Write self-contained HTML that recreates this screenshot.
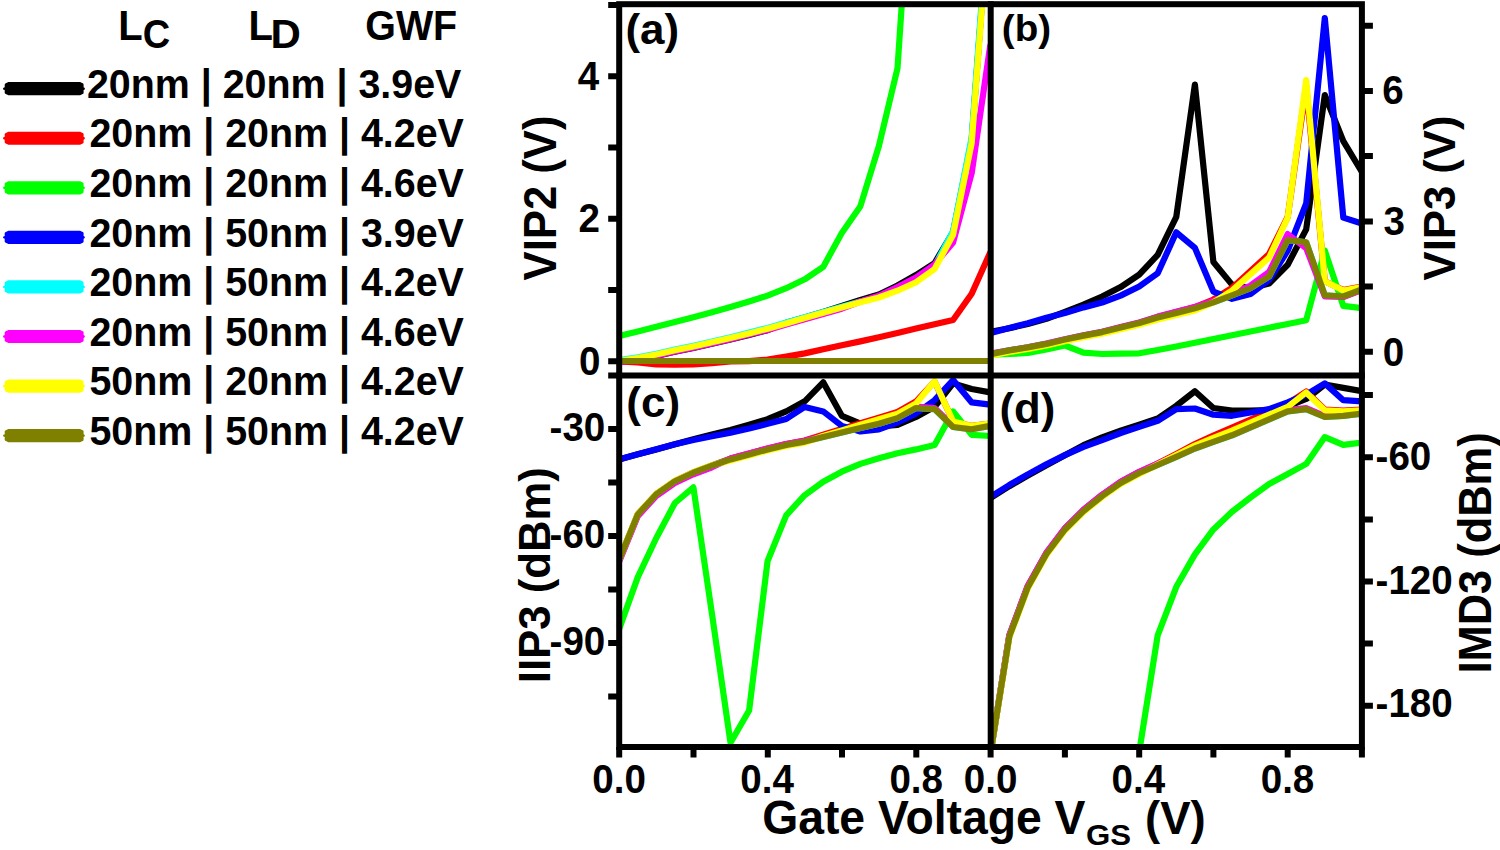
<!DOCTYPE html><html><head><meta charset="utf-8"><style>html,body{margin:0;padding:0;background:#fff;width:1500px;height:850px;overflow:hidden;font-family:"Liberation Sans",sans-serif}svg{display:block}</style></head><body>
<svg width="1500" height="850" viewBox="0 0 1500 850">
<rect width="1500" height="850" fill="#fff"/>
<defs>
<clipPath id="ca"><rect x="619.2" y="4.2" width="371.5" height="371.2"/></clipPath>
<clipPath id="cb"><rect x="990.7" y="4.2" width="371.20000000000005" height="371.2"/></clipPath>
<clipPath id="cc"><rect x="619.2" y="375.4" width="371.5" height="371.6"/></clipPath>
<clipPath id="cd"><rect x="990.7" y="375.4" width="371.20000000000005" height="371.6"/></clipPath>
</defs>
<g clip-path="url(#ca)" fill="none" stroke-width="6.2" stroke-linejoin="round" stroke-linecap="round">
<polyline stroke="#000000" points="619.2,362.5 637.8,359.5 656.3,356.0 674.9,351.8 693.4,348.0 712.0,343.8 730.5,339.5 749.1,334.9 767.6,330.2 786.2,322.8 804.7,317.5 823.2,312.0 841.8,306.0 860.4,300.0 878.9,294.5 897.5,285.5 916.0,275.0 934.6,263.0 953.1,232.0 971.7,140.0 990.2,-108.0"/>
<polyline stroke="#ff0000" points="619.2,361.5 637.8,362.3 656.3,364.5 674.9,364.6 693.4,364.5 712.0,363.2 730.5,361.3 749.1,361.2 767.6,359.5 786.2,356.6 804.7,353.4 823.2,349.3 841.8,345.3 860.4,341.4 878.9,337.3 897.5,333.0 916.0,328.6 934.6,324.3 953.1,320.0 971.7,293.7 990.2,252.5"/>
<polyline stroke="#00ff00" points="619.2,335.9 637.8,331.4 656.3,326.7 674.9,321.9 693.4,317.2 712.0,312.3 730.5,307.1 749.1,301.5 767.6,295.6 786.2,288.2 804.7,279.3 823.2,266.9 841.8,233.0 860.4,206.2 878.9,146.0 897.5,68.3 916.0,-208.0"/>
<polyline stroke="#0000ff" points="619.2,361.0 990.2,361.0"/>
<polyline stroke="#00ffff" points="619.2,360.2 637.8,357.2 656.3,353.7 674.9,349.5 693.4,345.7 712.0,341.5 730.5,337.2 749.1,332.6 767.6,327.9 786.2,322.6 804.7,317.2 823.2,311.9 841.8,306.7 860.4,301.5 878.9,296.7 897.5,289.9 916.0,281.5 934.6,266.0 953.1,231.0 971.7,137.0 990.2,-115.0"/>
<polyline stroke="#ff00ff" points="619.2,362.2 637.8,359.2 656.3,355.7 674.9,351.5 693.4,347.7 712.0,343.5 730.5,339.2 749.1,334.6 767.6,329.9 786.2,324.6 804.7,319.2 823.2,313.9 841.8,308.7 860.4,301.5 878.9,295.8 897.5,287.0 916.0,277.5 934.6,264.5 953.1,242.4 971.7,173.0 990.2,45.7"/>
<polyline stroke="#ffff00" points="619.2,361.0 637.8,358.0 656.3,354.5 674.9,350.3 693.4,346.5 712.0,342.3 730.5,338.0 749.1,333.4 767.6,328.7 786.2,323.4 804.7,318.0 823.2,312.7 841.8,307.5 860.4,302.3 878.9,297.5 897.5,290.7 916.0,282.3 934.6,269.0 953.1,234.7 971.7,143.0 990.2,-101.0"/>
<polyline stroke="#808000" points="619.2,361.0 990.2,361.0"/>
</g>
<g clip-path="url(#cb)" fill="none" stroke-width="6.2" stroke-linejoin="round" stroke-linecap="round">
<polyline stroke="#000000" points="990.7,331.8 1009.3,328.2 1027.8,324.0 1046.4,318.8 1064.9,311.8 1083.5,304.7 1102.1,296.5 1120.6,287.1 1139.2,274.7 1157.7,254.9 1176.3,216.8 1194.9,84.5 1213.4,262.0 1232.0,284.6 1250.5,288.2 1269.1,283.5 1287.7,264.7 1306.2,229.4 1324.8,95.0 1343.3,141.2 1361.9,172.0"/>
<polyline stroke="#ff0000" points="990.7,354.0 1009.3,351.0 1027.8,348.0 1046.4,344.3 1064.9,340.0 1083.5,336.0 1102.1,332.3 1120.6,327.5 1139.2,323.0 1157.7,317.0 1176.3,312.0 1194.9,307.0 1213.4,299.5 1232.0,288.0 1250.5,271.0 1269.1,254.0 1287.7,217.0 1306.2,86.0 1324.8,281.2 1343.3,290.0 1361.9,286.5"/>
<polyline stroke="#00ff00" points="990.7,354.6 1009.3,354.0 1027.8,353.0 1046.4,349.4 1064.9,345.5 1083.5,352.7 1102.1,354.0 1120.6,353.6 1139.2,353.3 1157.7,350.0 1176.3,346.5 1194.9,342.8 1213.4,339.0 1232.0,335.2 1250.5,331.5 1269.1,327.7 1287.7,324.0 1306.2,320.3 1324.8,250.6 1343.3,305.9 1361.9,308.2"/>
<polyline stroke="#0000ff" points="990.7,333.1 1009.3,327.9 1027.8,323.2 1046.4,317.8 1064.9,313.1 1083.5,307.4 1102.1,302.5 1120.6,295.6 1139.2,286.5 1157.7,273.3 1176.3,232.3 1194.9,247.9 1213.4,291.6 1232.0,298.8 1250.5,294.1 1269.1,280.0 1287.7,250.6 1306.2,203.5 1324.8,18.0 1343.3,217.6 1361.9,223.5"/>
<polyline stroke="#00ffff" points="990.7,354.1 1009.3,350.4 1027.8,347.4 1046.4,343.9 1064.9,339.6 1083.5,335.6 1102.1,332.1 1120.6,327.4 1139.2,322.9 1157.7,317.6 1176.3,313.0 1194.9,308.2 1213.4,302.4 1232.0,295.3 1250.5,288.2 1269.1,276.5 1287.7,240.0 1306.2,242.4 1324.8,295.3 1343.3,296.5 1361.9,289.4"/>
<polyline stroke="#ff00ff" points="990.7,353.5 1009.3,350.3 1027.8,347.2 1046.4,343.6 1064.9,339.3 1083.5,335.3 1102.1,331.8 1120.6,327.1 1139.2,322.5 1157.7,316.6 1176.3,311.8 1194.9,307.0 1213.4,301.0 1232.0,293.5 1250.5,285.5 1269.1,272.0 1287.7,234.1 1306.2,248.2 1324.8,296.5 1343.3,297.0 1361.9,290.0"/>
<polyline stroke="#ffff00" points="990.7,355.5 1009.3,352.0 1027.8,349.0 1046.4,345.5 1064.9,341.3 1083.5,337.3 1102.1,333.8 1120.6,329.2 1139.2,324.7 1157.7,319.4 1176.3,315.0 1194.9,310.5 1213.4,302.4 1232.0,290.6 1250.5,274.1 1269.1,257.6 1287.7,217.6 1306.2,80.0 1324.8,281.2 1343.3,290.6 1361.9,287.1"/>
<polyline stroke="#808000" points="990.7,354.1 1009.3,350.4 1027.8,347.4 1046.4,343.9 1064.9,339.6 1083.5,335.6 1102.1,332.1 1120.6,327.4 1139.2,322.9 1157.7,317.6 1176.3,313.0 1194.9,308.2 1213.4,302.4 1232.0,295.3 1250.5,288.2 1269.1,276.5 1287.7,240.0 1306.2,242.4 1324.8,295.3 1343.3,296.5 1361.9,289.4"/>
</g>
<g clip-path="url(#cc)" fill="none" stroke-width="6.2" stroke-linejoin="round" stroke-linecap="round">
<polyline stroke="#000000" points="619.2,459.4 637.8,454.3 656.3,449.4 674.9,444.3 693.4,439.3 712.0,434.6 730.5,430.0 749.1,424.8 767.6,419.2 786.2,411.4 804.7,401.3 823.2,382.3 841.8,415.8 860.4,423.7 878.9,426.3 897.5,424.8 916.0,417.0 934.6,406.9 953.1,383.4 971.7,389.0 990.2,392.4"/>
<polyline stroke="#ff0000" points="619.2,559.7 637.8,514.2 656.3,494.0 674.9,481.0 693.4,472.4 712.0,465.4 730.5,458.6 749.1,453.6 767.6,448.5 786.2,444.0 804.7,440.5 823.2,434.6 841.8,429.0 860.4,423.3 878.9,417.6 897.5,412.0 916.0,401.5 934.6,381.5 953.1,421.4 971.7,425.9 990.2,423.7"/>
<polyline stroke="#00ff00" points="619.2,629.0 637.8,577.1 656.3,538.0 674.9,503.0 693.4,487.4 712.0,614.1 730.5,742.7 749.1,710.5 767.6,561.0 786.2,515.3 804.7,495.2 823.2,481.8 841.8,471.7 860.4,463.9 878.9,458.3 897.5,453.2 916.0,449.4 934.6,444.9 953.1,411.4 971.7,434.8 990.2,436.0"/>
<polyline stroke="#0000ff" points="619.2,459.3 637.8,454.3 656.3,449.2 674.9,444.2 693.4,440.0 712.0,436.3 730.5,432.6 749.1,428.5 767.6,423.8 786.2,419.0 804.7,406.9 823.2,411.4 841.8,425.9 860.4,431.5 878.9,429.3 897.5,422.5 916.0,413.6 934.6,400.2 953.1,380.1 971.7,402.4 990.2,404.7"/>
<polyline stroke="#00ffff" points="619.2,560.0 637.8,514.5 656.3,494.3 674.9,481.3 693.4,472.7 712.0,465.7 730.5,459.4 749.1,454.5 767.6,449.4 786.2,444.9 804.7,441.6 823.2,437.1 841.8,432.6 860.4,428.1 878.9,423.7 897.5,418.1 916.0,408.0 934.6,409.1 953.1,427.0 971.7,429.3 990.2,425.9"/>
<polyline stroke="#ff00ff" points="619.2,561.6 637.8,516.1 656.3,495.9 674.9,482.9 693.4,474.3 712.0,467.3 730.5,458.5 749.1,453.6 767.6,448.5 786.2,444.0 804.7,440.7 823.2,436.2 841.8,431.7 860.4,427.2 878.9,422.8 897.5,417.2 916.0,406.5 934.6,408.0 953.1,426.0 971.7,428.4 990.2,425.0"/>
<polyline stroke="#ffff00" points="619.2,559.5 637.8,514.0 656.3,493.8 674.9,480.8 693.4,472.2 712.0,465.2 730.5,460.4 749.1,455.5 767.6,450.4 786.2,445.9 804.7,442.7 823.2,436.0 841.8,430.4 860.4,424.8 878.9,419.2 897.5,413.6 916.0,403.5 934.6,381.2 953.1,421.4 971.7,425.9 990.2,423.7"/>
<polyline stroke="#808000" points="619.2,560.0 637.8,514.5 656.3,494.3 674.9,481.3 693.4,472.7 712.0,465.7 730.5,459.4 749.1,454.5 767.6,449.4 786.2,444.9 804.7,441.6 823.2,437.1 841.8,432.6 860.4,428.1 878.9,423.7 897.5,418.1 916.0,408.0 934.6,409.1 953.1,427.0 971.7,429.3 990.2,425.9"/>
</g>
<g clip-path="url(#cd)" fill="none" stroke-width="6.2" stroke-linejoin="round" stroke-linecap="round">
<polyline stroke="#000000" points="990.7,498.0 1009.3,486.2 1027.8,475.6 1046.4,465.2 1064.9,455.3 1083.5,445.2 1102.1,437.4 1120.6,430.7 1139.2,424.6 1157.7,418.5 1176.3,405.8 1194.9,391.2 1213.4,408.0 1232.0,410.5 1250.5,410.5 1269.1,410.0 1287.7,406.5 1306.2,399.0 1324.8,384.5 1343.3,387.9 1361.9,391.2"/>
<polyline stroke="#ff0000" points="990.7,752.0 1009.3,635.5 1027.8,586.2 1046.4,553.0 1064.9,528.5 1083.5,510.0 1102.1,495.0 1120.6,482.0 1139.2,472.0 1157.7,463.5 1176.3,454.0 1194.9,444.0 1213.4,435.5 1232.0,427.5 1250.5,419.5 1269.1,411.5 1287.7,403.5 1306.2,391.5 1324.8,409.5 1343.3,410.5 1361.9,409.5"/>
<polyline stroke="#00ff00" points="1139.2,752.0 1157.7,635.3 1176.3,586.8 1194.9,554.4 1213.4,529.4 1232.0,511.8 1250.5,497.5 1269.1,484.0 1287.7,474.0 1306.2,463.9 1324.8,437.1 1343.3,444.9 1361.9,442.7"/>
<polyline stroke="#0000ff" points="990.7,496.8 1009.3,485.0 1027.8,474.4 1046.4,464.3 1064.9,455.1 1083.5,446.9 1102.1,440.2 1120.6,433.0 1139.2,426.9 1157.7,420.8 1176.3,409.1 1194.9,408.5 1213.4,414.7 1232.0,415.8 1250.5,412.5 1269.1,409.1 1287.7,402.4 1306.2,394.6 1324.8,383.4 1343.3,400.2 1361.9,401.3"/>
<polyline stroke="#00ffff" points="990.7,752.0 1009.3,636.4 1027.8,587.2 1046.4,554.0 1064.9,529.5 1083.5,511.0 1102.1,496.0 1120.6,483.0 1139.2,473.0 1157.7,465.0 1176.3,456.9 1194.9,448.5 1213.4,441.8 1232.0,435.3 1250.5,427.3 1269.1,419.3 1287.7,411.4 1306.2,409.1 1324.8,417.0 1343.3,415.8 1361.9,413.6"/>
<polyline stroke="#ff00ff" points="990.7,752.0 1009.3,635.0 1027.8,585.7 1046.4,552.7 1064.9,528.2 1083.5,509.7 1102.1,494.7 1120.6,481.8 1139.2,471.8 1157.7,463.5 1176.3,455.4 1194.9,447.0 1213.4,440.3 1232.0,433.8 1250.5,425.8 1269.1,417.8 1287.7,410.0 1306.2,408.1 1324.8,416.0 1343.3,414.8 1361.9,412.6"/>
<polyline stroke="#ffff00" points="990.7,752.0 1009.3,637.4 1027.8,588.2 1046.4,555.0 1064.9,530.5 1083.5,512.0 1102.1,497.0 1120.6,484.0 1139.2,474.0 1157.7,464.5 1176.3,455.0 1194.9,445.5 1213.4,437.8 1232.0,430.7 1250.5,422.7 1269.1,414.7 1287.7,406.9 1306.2,392.4 1324.8,410.3 1343.3,411.4 1361.9,410.3"/>
<polyline stroke="#808000" points="990.7,752.0 1009.3,636.4 1027.8,587.2 1046.4,554.0 1064.9,529.5 1083.5,511.0 1102.1,496.0 1120.6,483.0 1139.2,473.0 1157.7,465.0 1176.3,456.9 1194.9,448.5 1213.4,441.8 1232.0,435.3 1250.5,427.3 1269.1,419.3 1287.7,411.4 1306.2,409.1 1324.8,417.0 1343.3,415.8 1361.9,413.6"/>
</g>
<g stroke="#000" stroke-width="6.0" fill="none" stroke-linecap="square">
<rect x="619.2" y="4.2" width="742.7" height="742.8"/>
<line x1="990.7" y1="4.2" x2="990.7" y2="747.0"/>
<line x1="619.2" y1="375.4" x2="1361.9" y2="375.4"/>
</g>
<path d="M608.2,361.2H619.2M608.2,289.9H619.2M608.2,218.7H619.2M608.2,147.4H619.2M608.2,76.2H619.2M608.2,4.9H619.2M608.2,375.4H619.2M608.2,428.9H619.2M608.2,482.4H619.2M608.2,535.9H619.2M608.2,589.4H619.2M608.2,642.9H619.2M608.2,696.4H619.2M1361.9,351.8H1372.9M1361.9,286.6H1372.9M1361.9,221.4H1372.9M1361.9,156.1H1372.9M1361.9,90.9H1372.9M1361.9,25.7H1372.9M1361.9,395.1H1372.9M1361.9,457.2H1372.9M1361.9,519.4H1372.9M1361.9,581.5H1372.9M1361.9,643.6H1372.9M1361.9,705.8H1372.9M619.2,747.0V757.5M693.5,747.0V757.5M767.8,747.0V757.5M842.0,747.0V757.5M916.3,747.0V757.5M990.6,747.0V757.5M1064.9,747.0V757.5M1139.2,747.0V757.5M1213.4,747.0V757.5M1287.7,747.0V757.5M1361.9,747.0V757.5" stroke="#000" stroke-width="6.0" fill="none"/>
<text transform="translate(577.87,90.05) scale(0.3860,0.4072)" font-family="&quot;Liberation Sans&quot;, sans-serif" font-weight="bold" font-size="100">4</text>
<text transform="translate(578.53,232.15) scale(0.3860,0.4072)" font-family="&quot;Liberation Sans&quot;, sans-serif" font-weight="bold" font-size="100">2</text>
<text transform="translate(578.91,375.30) scale(0.3860,0.4072)" font-family="&quot;Liberation Sans&quot;, sans-serif" font-weight="bold" font-size="100">0</text>
<text transform="translate(549.56,441.20) scale(0.3860,0.4072)" font-family="&quot;Liberation Sans&quot;, sans-serif" font-weight="bold" font-size="100">-30</text>
<text transform="translate(549.56,548.30) scale(0.3860,0.4072)" font-family="&quot;Liberation Sans&quot;, sans-serif" font-weight="bold" font-size="100">-60</text>
<text transform="translate(549.56,655.20) scale(0.3860,0.4072)" font-family="&quot;Liberation Sans&quot;, sans-serif" font-weight="bold" font-size="100">-90</text>
<text transform="translate(1382.16,104.10) scale(0.3860,0.4072)" font-family="&quot;Liberation Sans&quot;, sans-serif" font-weight="bold" font-size="100">6</text>
<text transform="translate(1383.43,234.70) scale(0.3860,0.4072)" font-family="&quot;Liberation Sans&quot;, sans-serif" font-weight="bold" font-size="100">3</text>
<text transform="translate(1382.76,365.60) scale(0.3860,0.4072)" font-family="&quot;Liberation Sans&quot;, sans-serif" font-weight="bold" font-size="100">0</text>
<text transform="translate(1375.56,470.15) scale(0.3860,0.4072)" font-family="&quot;Liberation Sans&quot;, sans-serif" font-weight="bold" font-size="100">-60</text>
<text transform="translate(1375.56,593.60) scale(0.3860,0.4072)" font-family="&quot;Liberation Sans&quot;, sans-serif" font-weight="bold" font-size="100">-120</text>
<text transform="translate(1375.56,717.45) scale(0.3860,0.4072)" font-family="&quot;Liberation Sans&quot;, sans-serif" font-weight="bold" font-size="100">-180</text>
<text transform="translate(592.37,792.71) scale(0.3860,0.4072)" font-family="&quot;Liberation Sans&quot;, sans-serif" font-weight="bold" font-size="100">0.0</text>
<text transform="translate(740.20,792.71) scale(0.3860,0.4072)" font-family="&quot;Liberation Sans&quot;, sans-serif" font-weight="bold" font-size="100">0.4</text>
<text transform="translate(889.38,792.71) scale(0.3860,0.4072)" font-family="&quot;Liberation Sans&quot;, sans-serif" font-weight="bold" font-size="100">0.8</text>
<text transform="translate(963.87,792.71) scale(0.3860,0.4072)" font-family="&quot;Liberation Sans&quot;, sans-serif" font-weight="bold" font-size="100">0.0</text>
<text transform="translate(1111.60,792.71) scale(0.3860,0.4072)" font-family="&quot;Liberation Sans&quot;, sans-serif" font-weight="bold" font-size="100">0.4</text>
<text transform="translate(1260.68,792.71) scale(0.3860,0.4072)" font-family="&quot;Liberation Sans&quot;, sans-serif" font-weight="bold" font-size="100">0.8</text>
<text transform="translate(625.40,44.32) scale(0.4393,0.4277)" font-family="&quot;Liberation Sans&quot;, sans-serif" font-weight="bold" font-size="100">(a)</text>
<text transform="translate(1001.87,41.37) scale(0.3856,0.3777)" font-family="&quot;Liberation Sans&quot;, sans-serif" font-weight="bold" font-size="100">(b)</text>
<text transform="translate(626.29,417.20) scale(0.4411,0.4287)" font-family="&quot;Liberation Sans&quot;, sans-serif" font-weight="bold" font-size="100">(c)</text>
<text transform="translate(999.41,422.89) scale(0.4373,0.4245)" font-family="&quot;Liberation Sans&quot;, sans-serif" font-weight="bold" font-size="100">(d)</text>
<text transform="translate(555.90,280.44) rotate(-90) scale(0.4366,0.4609)" font-family="&quot;Liberation Sans&quot;, sans-serif" font-weight="bold" font-size="100">VIP2 (V)</text>
<text transform="translate(1455.20,280.44) rotate(-90) scale(0.4366,0.4507)" font-family="&quot;Liberation Sans&quot;, sans-serif" font-weight="bold" font-size="100">VIP3 (V)</text>
<text transform="translate(549.60,683.16) rotate(-90) scale(0.4369,0.4522)" font-family="&quot;Liberation Sans&quot;, sans-serif" font-weight="bold" font-size="100">IIP3 (dBm)</text>
<text transform="translate(1491.10,673.54) rotate(-90) scale(0.4344,0.4594)" font-family="&quot;Liberation Sans&quot;, sans-serif" font-weight="bold" font-size="100">IMD3 (dBm)</text>
<text transform="translate(762.2,834) scale(0.463,0.478)" font-family="&quot;Liberation Sans&quot;, sans-serif" font-weight="bold" font-size="100">Gate Voltage V</text>
<text transform="translate(1086,845) scale(0.312,0.304)" font-family="&quot;Liberation Sans&quot;, sans-serif" font-weight="bold" font-size="100">GS</text>
<text transform="translate(1145,834) scale(0.455,0.465)" font-family="&quot;Liberation Sans&quot;, sans-serif" font-weight="bold" font-size="100">(V)</text>
<text transform="translate(118.3,40.2) scale(0.40,0.424)" font-family="&quot;Liberation Sans&quot;, sans-serif" font-weight="bold" font-size="100">L</text>
<text transform="translate(142.8,48) scale(0.38,0.415)" font-family="&quot;Liberation Sans&quot;, sans-serif" font-weight="bold" font-size="100">C</text>
<text transform="translate(248.6,40.2) scale(0.40,0.424)" font-family="&quot;Liberation Sans&quot;, sans-serif" font-weight="bold" font-size="100">L</text>
<text transform="translate(270.5,48) scale(0.42,0.415)" font-family="&quot;Liberation Sans&quot;, sans-serif" font-weight="bold" font-size="100">D</text>
<text transform="translate(365.22,39.78) scale(0.3942,0.4169)" font-family="&quot;Liberation Sans&quot;, sans-serif" font-weight="bold" font-size="100">GWF</text>
<path fill="#000000" d="M8.4,82.10H80.1L83.2,83.60L83.6,84.40V87.30L84.8,88.00V89.40L83.6,90.10V93.00L83.2,93.80L80.1,95.30H8.4L5.3,93.80L4.7,93.00V90.10L3.1,89.40V88.00L4.7,87.30V84.40L5.3,83.60Z"/>
<text transform="translate(86.92,97.90) scale(0.3940,0.4137)" font-family="&quot;Liberation Sans&quot;, sans-serif" font-weight="bold" font-size="100">20nm | 20nm | 3.9eV</text>
<path fill="#ff0000" d="M8.4,131.66H80.1L83.2,133.16L83.6,133.96V136.86L84.8,137.56V138.96L83.6,139.66V142.56L83.2,143.36L80.1,144.86H8.4L5.3,143.36L4.7,142.56V139.66L3.1,138.96V137.56L4.7,136.86V133.96L5.3,133.16Z"/>
<text transform="translate(89.42,147.46) scale(0.3940,0.4137)" font-family="&quot;Liberation Sans&quot;, sans-serif" font-weight="bold" font-size="100">20nm | 20nm | 4.2eV</text>
<path fill="#00ff00" d="M8.4,181.22H80.1L83.2,182.72L83.6,183.52V186.42L84.8,187.12V188.52L83.6,189.22V192.12L83.2,192.92L80.1,194.42H8.4L5.3,192.92L4.7,192.12V189.22L3.1,188.52V187.12L4.7,186.42V183.52L5.3,182.72Z"/>
<text transform="translate(89.42,197.02) scale(0.3940,0.4137)" font-family="&quot;Liberation Sans&quot;, sans-serif" font-weight="bold" font-size="100">20nm | 20nm | 4.6eV</text>
<path fill="#0000ff" d="M8.4,230.78H80.1L83.2,232.28L83.6,233.08V235.98L84.8,236.68V238.08L83.6,238.78V241.68L83.2,242.48L80.1,243.98H8.4L5.3,242.48L4.7,241.68V238.78L3.1,238.08V236.68L4.7,235.98V233.08L5.3,232.28Z"/>
<text transform="translate(89.42,246.58) scale(0.3940,0.4137)" font-family="&quot;Liberation Sans&quot;, sans-serif" font-weight="bold" font-size="100">20nm | 50nm | 3.9eV</text>
<path fill="#00ffff" d="M8.4,280.34H80.1L83.2,281.84L83.6,282.64V285.54L84.8,286.24V287.64L83.6,288.34V291.24L83.2,292.04L80.1,293.54H8.4L5.3,292.04L4.7,291.24V288.34L3.1,287.64V286.24L4.7,285.54V282.64L5.3,281.84Z"/>
<text transform="translate(89.42,296.14) scale(0.3940,0.4137)" font-family="&quot;Liberation Sans&quot;, sans-serif" font-weight="bold" font-size="100">20nm | 50nm | 4.2eV</text>
<path fill="#ff00ff" d="M8.4,329.90H80.1L83.2,331.40L83.6,332.20V335.10L84.8,335.80V337.20L83.6,337.90V340.80L83.2,341.60L80.1,343.10H8.4L5.3,341.60L4.7,340.80V337.90L3.1,337.20V335.80L4.7,335.10V332.20L5.3,331.40Z"/>
<text transform="translate(89.42,345.70) scale(0.3940,0.4137)" font-family="&quot;Liberation Sans&quot;, sans-serif" font-weight="bold" font-size="100">20nm | 50nm | 4.6eV</text>
<path fill="#ffff00" d="M8.4,379.46H80.1L83.2,380.96L83.6,381.76V384.66L84.8,385.36V386.76L83.6,387.46V390.36L83.2,391.16L80.1,392.66H8.4L5.3,391.16L4.7,390.36V387.46L3.1,386.76V385.36L4.7,384.66V381.76L5.3,380.96Z"/>
<text transform="translate(89.42,395.26) scale(0.3940,0.4137)" font-family="&quot;Liberation Sans&quot;, sans-serif" font-weight="bold" font-size="100">50nm | 20nm | 4.2eV</text>
<path fill="#808000" d="M8.4,429.02H80.1L83.2,430.52L83.6,431.32V434.22L84.8,434.92V436.32L83.6,437.02V439.92L83.2,440.72L80.1,442.22H8.4L5.3,440.72L4.7,439.92V437.02L3.1,436.32V434.92L4.7,434.22V431.32L5.3,430.52Z"/>
<text transform="translate(89.42,444.82) scale(0.3940,0.4137)" font-family="&quot;Liberation Sans&quot;, sans-serif" font-weight="bold" font-size="100">50nm | 50nm | 4.2eV</text>
</svg></body></html>
